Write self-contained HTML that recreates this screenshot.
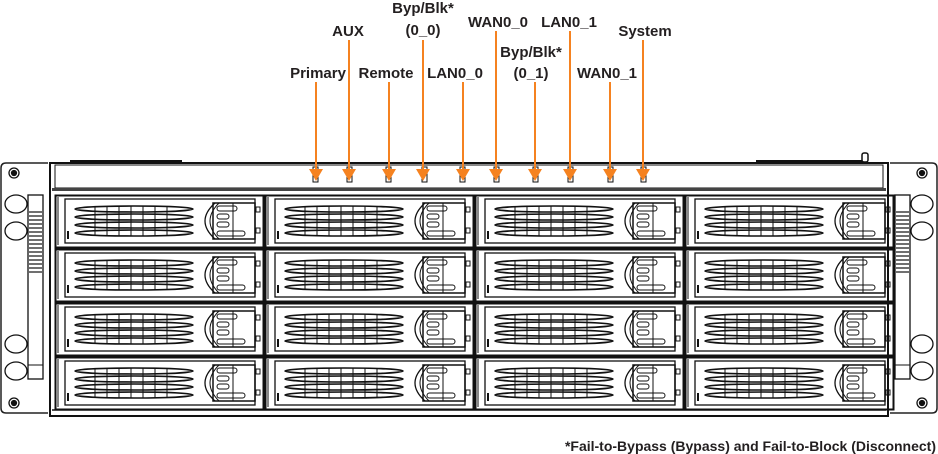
<!DOCTYPE html>
<html><head><meta charset="utf-8"><style>
html,body{margin:0;padding:0;background:#fff;}
svg{display:block;}
text{font-family:"Liberation Sans",sans-serif;font-weight:bold;font-size:15px;fill:#231f20;text-anchor:middle;}
</style></head><body>
<svg width="938" height="454" viewBox="0 0 938 454" xmlns="http://www.w3.org/2000/svg">
<defs>
<g id="bay" fill="none" stroke="#111">
  <rect x="0.5" y="0.5" width="208" height="52" stroke-width="2"/>
  <rect x="10" y="4" width="190" height="44" stroke-width="1.3"/>
  <line x1="3" y1="2" x2="3" y2="50" stroke-width="1"/>
  <g stroke-width="1.6">
    <ellipse cx="79" cy="14" rx="59" ry="3"/>
    <ellipse cx="79" cy="22" rx="59" ry="3"/>
    <ellipse cx="79" cy="30" rx="59" ry="3"/>
    <ellipse cx="79" cy="38" rx="59" ry="3"/>
  </g>
  <g stroke-width="1">
    <line x1="40" y1="11" x2="40" y2="41"/><line x1="52" y1="11" x2="52" y2="41"/>
    <line x1="64" y1="11" x2="64" y2="41"/><line x1="76" y1="11" x2="76" y2="41"/>
    <line x1="88" y1="11" x2="88" y2="41"/><line x1="100" y1="11" x2="100" y2="41"/>
    <line x1="112" y1="11" x2="112" y2="41"/>
  </g>
  <rect x="158" y="8" width="42" height="36" stroke-width="1.5"/>
  <path d="M160,8 Q140,26 160,44" stroke-width="1.3"/>
  <path d="M164,8 Q146,26 164,44" stroke-width="1"/>
  <g stroke-width="1">
    <rect x="162" y="11" width="20" height="5" rx="2.5"/>
    <rect x="162" y="19" width="12" height="5" rx="2.5"/>
    <rect x="162" y="27" width="12" height="5" rx="2.5"/>
    <rect x="162" y="36" width="28" height="5" rx="2.5"/>
    <line x1="178" y1="8" x2="178" y2="44"/>
  </g>
  <rect x="201" y="12" width="4" height="5" stroke-width="1"/>
  <rect x="201" y="33" width="4" height="5" stroke-width="1"/>
  <rect x="12" y="36" width="2" height="8" fill="#111" stroke="none"/>
</g>
<g id="ear" fill="none" stroke="#111" stroke-width="1.3">
  <circle cx="0" cy="0" r="5"/><circle cx="0" cy="0" r="2.5" fill="#111"/>
</g>
</defs>

<!-- ears -->
<path d="M48,163 L6,163 Q1,163 1,168 L1,408 Q1,413 6,413 L48,413" fill="none" stroke="#222" stroke-width="1.5"/>
<use href="#ear" x="14" y="173"/><use href="#ear" x="14" y="403"/>
<ellipse cx="16" cy="204" rx="11" ry="9" fill="none" stroke="#111" stroke-width="1.3"/>
<ellipse cx="16" cy="231" rx="11" ry="9" fill="none" stroke="#111" stroke-width="1.3"/>
<ellipse cx="16" cy="344" rx="11" ry="9" fill="none" stroke="#111" stroke-width="1.3"/>
<ellipse cx="16" cy="371" rx="11" ry="9" fill="none" stroke="#111" stroke-width="1.3"/>
<rect x="28" y="195" width="15" height="184" fill="none" stroke="#111" stroke-width="1.3"/>
<g stroke="#111" stroke-width="1.2">
<line x1="29" y1="212" x2="42" y2="212"/><line x1="29" y1="216" x2="42" y2="216"/><line x1="29" y1="220" x2="42" y2="220"/><line x1="29" y1="224" x2="42" y2="224"/><line x1="29" y1="228" x2="42" y2="228"/><line x1="29" y1="232" x2="42" y2="232"/><line x1="29" y1="236" x2="42" y2="236"/><line x1="29" y1="240" x2="42" y2="240"/><line x1="29" y1="244" x2="42" y2="244"/><line x1="29" y1="248" x2="42" y2="248"/><line x1="29" y1="252" x2="42" y2="252"/><line x1="29" y1="256" x2="42" y2="256"/><line x1="29" y1="260" x2="42" y2="260"/><line x1="29" y1="264" x2="42" y2="264"/><line x1="29" y1="268" x2="42" y2="268"/><line x1="29" y1="272" x2="42" y2="272"/>
</g>
<line x1="28" y1="365" x2="43" y2="365" stroke="#111"/>

<path d="M890,163 L932,163 Q937,163 937,168 L937,408 Q937,413 932,413 L890,413" fill="none" stroke="#222" stroke-width="1.5"/>
<use href="#ear" x="922" y="173"/><use href="#ear" x="922" y="403"/>
<ellipse cx="922" cy="204" rx="11" ry="9" fill="none" stroke="#111" stroke-width="1.3"/>
<ellipse cx="922" cy="231" rx="11" ry="9" fill="none" stroke="#111" stroke-width="1.3"/>
<ellipse cx="922" cy="344" rx="11" ry="9" fill="none" stroke="#111" stroke-width="1.3"/>
<ellipse cx="922" cy="371" rx="11" ry="9" fill="none" stroke="#111" stroke-width="1.3"/>
<rect x="895" y="195" width="15" height="184" fill="none" stroke="#111" stroke-width="1.3"/>
<g stroke="#111" stroke-width="1.2">
<line x1="896" y1="212" x2="909" y2="212"/><line x1="896" y1="216" x2="909" y2="216"/><line x1="896" y1="220" x2="909" y2="220"/><line x1="896" y1="224" x2="909" y2="224"/><line x1="896" y1="228" x2="909" y2="228"/><line x1="896" y1="232" x2="909" y2="232"/><line x1="896" y1="236" x2="909" y2="236"/><line x1="896" y1="240" x2="909" y2="240"/><line x1="896" y1="244" x2="909" y2="244"/><line x1="896" y1="248" x2="909" y2="248"/><line x1="896" y1="252" x2="909" y2="252"/><line x1="896" y1="256" x2="909" y2="256"/><line x1="896" y1="260" x2="909" y2="260"/><line x1="896" y1="264" x2="909" y2="264"/><line x1="896" y1="268" x2="909" y2="268"/><line x1="896" y1="272" x2="909" y2="272"/>
</g>
<line x1="895" y1="365" x2="910" y2="365" stroke="#111"/>

<!-- chassis -->
<rect x="50" y="163" width="838" height="253" fill="none" stroke="#111" stroke-width="2"/>
<line x1="70" y1="161" x2="182" y2="161" stroke="#111" stroke-width="2"/>
<line x1="756" y1="161" x2="862" y2="161" stroke="#111" stroke-width="2"/>
<rect x="862" y="153" width="6" height="9" rx="2" fill="none" stroke="#111" stroke-width="1.5"/>
<rect x="55" y="165" width="828" height="23" fill="none" stroke="#111" stroke-width="1"/>
<rect x="52" y="188" width="834" height="3" fill="#444"/>
<g fill="#fff" stroke="#111" stroke-width="1">
<rect x="313" y="167" width="5" height="15"/><rect x="347" y="167" width="5" height="15"/><rect x="386" y="167" width="5" height="15"/><rect x="422" y="167" width="5" height="15"/><rect x="460" y="167" width="5" height="15"/><rect x="494" y="167" width="5" height="15"/><rect x="533" y="167" width="5" height="15"/><rect x="568" y="167" width="5" height="15"/><rect x="608" y="167" width="5" height="15"/><rect x="641" y="167" width="5" height="15"/>
</g>
<line x1="52" y1="410" x2="886" y2="410" stroke="#111" stroke-width="1.5"/>

<!-- bays -->
<use href="#bay" x="55" y="195"/><use href="#bay" x="265" y="195"/><use href="#bay" x="475" y="195"/><use href="#bay" x="685" y="195"/>
<use href="#bay" x="55" y="249"/><use href="#bay" x="265" y="249"/><use href="#bay" x="475" y="249"/><use href="#bay" x="685" y="249"/>
<use href="#bay" x="55" y="303"/><use href="#bay" x="265" y="303"/><use href="#bay" x="475" y="303"/><use href="#bay" x="685" y="303"/>
<use href="#bay" x="55" y="357"/><use href="#bay" x="265" y="357"/><use href="#bay" x="475" y="357"/><use href="#bay" x="685" y="357"/>

<!-- arrows -->
<g stroke="#f58220" stroke-width="2">
<line x1="316" y1="82" x2="316" y2="172"/><line x1="349" y1="40" x2="349" y2="172"/><line x1="389" y1="82" x2="389" y2="172"/><line x1="423" y1="40" x2="423" y2="172"/><line x1="463" y1="82" x2="463" y2="172"/><line x1="496" y1="31" x2="496" y2="172"/><line x1="535" y1="82" x2="535" y2="172"/><line x1="570" y1="31" x2="570" y2="172"/><line x1="610" y1="82" x2="610" y2="172"/><line x1="643" y1="40" x2="643" y2="172"/>
</g>
<g fill="#f58220">
<path d="M309,169 L323,169 L316,181Z"/><path d="M342,169 L356,169 L349,181Z"/><path d="M382,169 L396,169 L389,181Z"/><path d="M416,169 L430,169 L423,181Z"/><path d="M456,169 L470,169 L463,181Z"/><path d="M489,169 L503,169 L496,181Z"/><path d="M528,169 L542,169 L535,181Z"/><path d="M563,169 L577,169 L570,181Z"/><path d="M603,169 L617,169 L610,181Z"/><path d="M636,169 L650,169 L643,181Z"/>
</g>

<!-- labels -->
<text x="318" y="78">Primary</text>
<text x="348" y="36">AUX</text>
<text x="386" y="78">Remote</text>
<text x="423" y="13">Byp/Blk*</text>
<text x="423" y="35">(0_0)</text>
<text x="455" y="78">LAN0_0</text>
<text x="498" y="27">WAN0_0</text>
<text x="531" y="57">Byp/Blk*</text>
<text x="531" y="78">(0_1)</text>
<text x="569" y="27">LAN0_1</text>
<text x="607" y="78">WAN0_1</text>
<text x="645" y="36">System</text>
<text x="936" y="451" style="text-anchor:end;font-size:14px">*Fail-to-Bypass (Bypass) and Fail-to-Block (Disconnect)</text>
</svg>
</body></html>
